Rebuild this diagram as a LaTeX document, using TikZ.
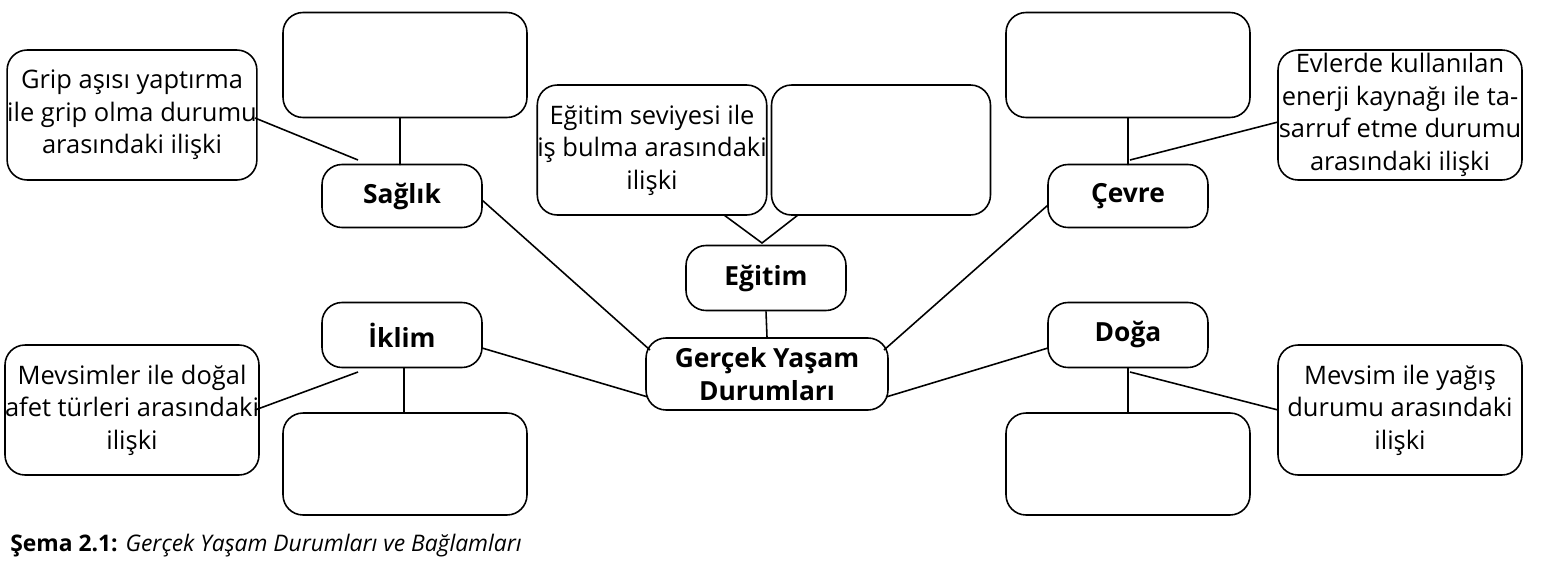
\documentclass[tikz,border=0pt]{standalone}
\usepackage{fontspec}
\setmainfont{Open Sans}
\newfontfamily\capfont{Open Sans Condensed}[FakeStretch=0.8]
\begin{document}
\begin{tikzpicture}[x=0.02cm,y=-0.02cm,
  bx/.style={draw,rounded corners=0.4cm,line width=0.9pt,align=center,inner sep=0pt,font=\fontsize{14.5}{18.5}\selectfont},
  lbl/.style={bx,font=\fontsize{15}{19}\selectfont\bfseries},
  ln/.style={line width=0.9pt}]
\useasboundingbox (0,0) rectangle (1546,582);
% boxes: macro-free definitions by explicit size
\node[lbl,minimum width=3.2cm,minimum height=1.26cm] (sag) at (402,196) {Sağlık};
\node[lbl,minimum width=3.2cm,minimum height=1.3cm] (ikl) at (402,335) {İklim};
\node[lbl,minimum width=3.2cm,minimum height=1.3cm] (egi) at (766,278) {Eğitim};
\node[lbl,minimum width=3.2cm,minimum height=1.26cm] (cev) at (1128,196) {Çevre};
\node[lbl,minimum width=3.2cm,minimum height=1.3cm] (dog) at (1128,335) {Doğa};
\node[lbl,minimum width=4.84cm,minimum height=1.44cm] (mid) at (767,374) {Gerçek Yaşam\\Durumları};
\node[bx,minimum width=4.88cm,minimum height=2.1cm] (sagt) at (405,65) {};
\node[bx,minimum width=4.9cm,minimum height=2.6cm] (grip) at (132,115) {Grip aşısı yaptırma\\ile grip olma durumu\\arasındaki ilişki};
\node[bx,minimum width=4.42cm,minimum height=2.6cm] (egs) at (652,150) {Eğitim seviyesi ile\\iş bulma arasındaki\\ilişki};
\node[bx,minimum width=4.38cm,minimum height=2.6cm] (egr) at (881,150) {};
\node[bx,minimum width=4.88cm,minimum height=2.1cm] (cevt) at (1128,65) {};
\node[bx,minimum width=4.88cm,minimum height=2.6cm] (evl) at (1400,115) {Evlerde kullanılan\\enerji kaynağı ile ta-\\sarruf etme durumu\\arasındaki ilişki};
\node[bx,minimum width=4.9cm,minimum height=2.6cm] (mev) at (132,410) {Mevsimler ile doğal\\afet türleri arasındaki\\ilişki};
\node[bx,minimum width=4.88cm,minimum height=2.04cm] (iklb) at (405,464) {};
\node[bx,minimum width=4.88cm,minimum height=2.04cm] (dogb) at (1128,464) {};
\node[bx,minimum width=4.88cm,minimum height=2.6cm] (myg) at (1400,410) {Mevsim ile yağış\\durumu arasındaki\\ilişki};
% connector points
\coordinate (a1) at (400,118); \coordinate (a2) at (400,165);
\coordinate (b1) at (255,118); \coordinate (b2) at (358,160);
\coordinate (c1) at (724,215); \coordinate (c2) at (798,215); \coordinate (c3) at (762,243);
\coordinate (d1) at (1128,118); \coordinate (d2) at (1128,165);
\coordinate (e1) at (1278,122); \coordinate (e2) at (1130,160);
\coordinate (f1) at (255,410); \coordinate (f2) at (358,372);
\coordinate (g1) at (404,368); \coordinate (g2) at (404,413);
\coordinate (h1) at (1128,368); \coordinate (h2) at (1128,413);
\coordinate (i1) at (1278,410); \coordinate (i2) at (1130,372);
\draw[ln] (a1)--(a2) (b1)--(b2) (c1)--(c3)--(c2) (d1)--(d2) (e1)--(e2)
  (f1)--(f2) (g1)--(g2) (h1)--(h2) (i1)--(i2);
\draw[ln] (egi.south)--(mid.north);
\draw[ln] (482,200)--(650,350);
\draw[ln] (482,348)--(648,397);
\draw[ln] (1048,205)--(884,350);
\draw[ln] (1048,348)--(886,397);
\node[anchor=west,inner sep=0pt,font=\fontsize{13}{16}\selectfont] (cap) at (10,546) {\textbf{Şema 2.1:} \textit{Gerçek Yaşam Durumları ve Bağlamları}};
\end{tikzpicture}
\end{document}
